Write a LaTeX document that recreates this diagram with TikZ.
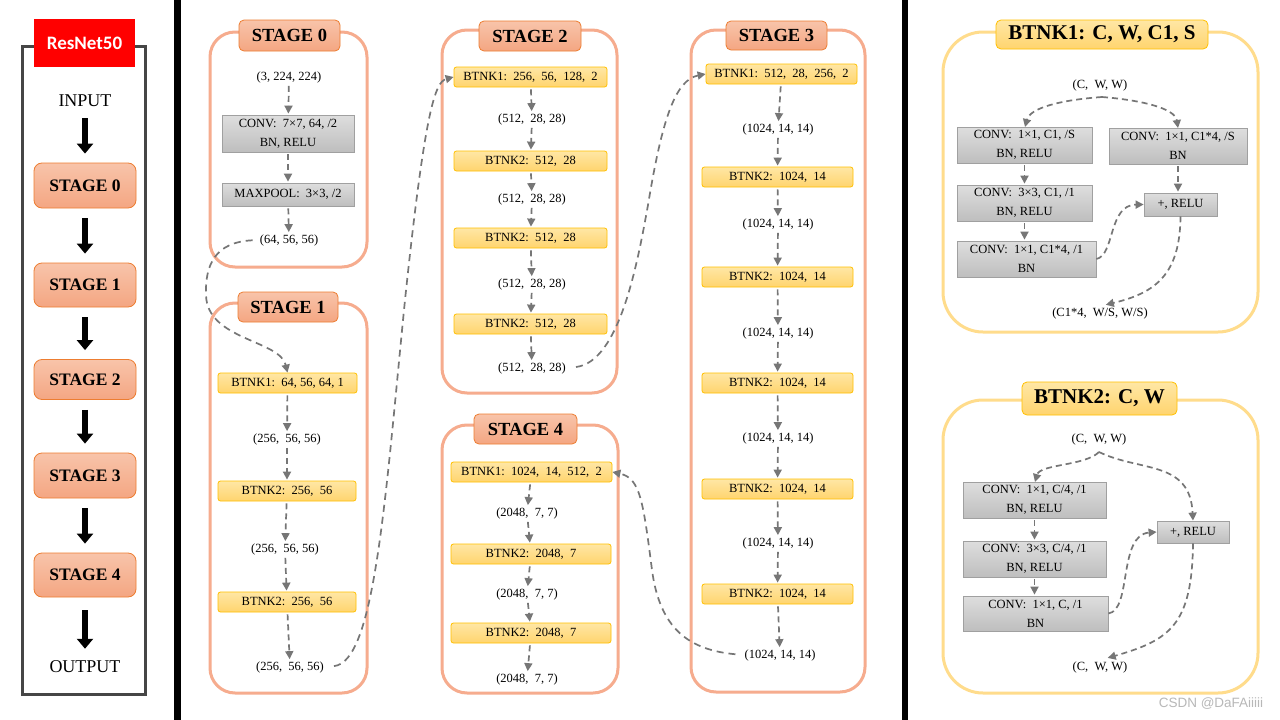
\documentclass[tikz,border=0pt]{standalone}
\usepackage{fontspec}
\setmainfont{Liberation Serif}
\newfontfamily\carlitofont{Carlito}
\newfontfamily\wmfont{Liberation Sans}
\usetikzlibrary{arrows.meta}
\definecolor{salTop}{RGB}{248,196,170}
\definecolor{salBot}{RGB}{244,166,130}
\definecolor{salBorder}{RGB}{237,125,49}
\definecolor{salLine}{RGB}{246,172,142}
\definecolor{yTop}{RGB}{255,231,165}
\definecolor{yBot}{RGB}{255,212,110}
\definecolor{yBorder}{RGB}{255,192,0}
\definecolor{yLine}{RGB}{255,220,140}
\definecolor{gTop}{RGB}{222,222,222}
\definecolor{gBot}{RGB}{190,190,190}
\definecolor{gBorder}{RGB}{160,160,160}
\definecolor{arrGray}{RGB}{118,118,118}
\definecolor{panelGray}{RGB}{70,70,70}
\definecolor{resRed}{RGB}{255,0,0}
\tikzset{
  smalltxt/.style={font=\fontsize{12.5}{19}\selectfont},
  txt/.style={smalltxt, inner sep=1pt},
  gbox/.style={smalltxt, draw=gBorder, top color=gTop, bottom color=gBot, line width=0.8pt, align=center, inner sep=0pt},
  ybox/.style={smalltxt, draw=yBorder, top color=yTop, bottom color=yBot, line width=0.8pt, rounded corners=2.5pt, inner sep=0pt, minimum height=20pt},
  stagecont/.style={draw=salLine, line width=3pt, rounded corners=25pt, inner sep=0pt},
  btnkcont/.style={draw=yLine, line width=3pt, rounded corners=40pt, inner sep=0pt},
  stagetitle/.style={draw=salBorder, top color=salTop, bottom color=salBot, line width=0.8pt, rounded corners=5pt, inner sep=0pt, font=\fontsize{18.5}{20}\selectfont\bfseries},
  btnktitle/.style={draw=yBorder, top color=yTop, bottom color=yBot, line width=0.8pt, rounded corners=5pt, inner sep=0pt, font=\fontsize{21}{23}\selectfont\bfseries},
  lstage/.style={draw=salBorder, top color=salTop, bottom color=salBot, line width=0.8pt, rounded corners=8pt, inner sep=0pt, minimum width=102pt, font=\fontsize{17.5}{19}\selectfont\bfseries},
  bigtxt/.style={inner sep=1pt, font=\fontsize{18}{20}\selectfont},
  bigarrow/.style={line width=6pt, -{Triangle[length=10pt,width=16pt]}, shorten <=10pt, shorten >=9pt},
  flow/.style={draw=arrGray, line width=1.7pt, dash pattern=on 6pt off 4pt, -{Triangle[length=8pt,width=8pt]}, arrGray, shorten <=2pt, shorten >=1pt},
  link/.style={draw=arrGray, line width=1.7pt, dash pattern=on 7pt off 5pt, -{Triangle[length=8pt,width=8pt]}, arrGray},
}
\begin{document}
\begin{tikzpicture}[x=1pt,y=-1pt]
\useasboundingbox (0,0) rectangle (1280,720);
\fill[white] (0,0) rectangle (1280,720);

% ---------- left overview panel ----------
\draw[draw=panelGray, line width=3pt] (22,46) rectangle (145,694);
\node[fill=resRed, text=white, inner sep=0pt, minimum width=101pt, minimum height=48pt, font=\carlitofont\fontsize{19}{21}\selectfont\bfseries] (res) at (84.5,43) {ResNet50};
\node[bigtxt] (inp) at (85,101) {INPUT};
\node[lstage, minimum height=45pt] (L0) at (85,185.5) {STAGE 0};
\node[lstage, minimum height=44pt] (L1) at (85,285) {STAGE 1};
\node[lstage, minimum height=40pt] (L2) at (85,379.5) {STAGE 2};
\node[lstage, minimum height=45pt] (L3) at (85,475.5) {STAGE 3};
\node[lstage, minimum height=44pt] (L4) at (85,575) {STAGE 4};
\node[bigtxt] (outp) at (85,667) {OUTPUT};
\draw[bigarrow] (inp) -- (L0);
\draw[bigarrow] (L0) -- (L1);
\draw[bigarrow] (L1) -- (L2);
\draw[bigarrow] (L2) -- (L3);
\draw[bigarrow] (L3) -- (L4);
\draw[bigarrow, shorten <=13pt, shorten >=11pt] (L4) -- (outp);

% separators
\draw[line width=7pt] (177.5,0) -- (177.5,720);
\draw[line width=6pt] (905,0) -- (905,720);

% ---------- STAGE 0 ----------
\node[stagecont, minimum width=157pt, minimum height=235pt] (s0box) at (288.5,149.5) {};
\node[stagetitle, minimum width=101pt, minimum height=31pt] (s0t) at (289.5,35.5) {STAGE 0};
\node[txt] (s0in) at (289,77) {(3, 224, 224)};
\node[gbox, minimum width=132pt, minimum height=37pt] (s0c) at (288,133.5) {CONV:\ \ 7×7, 64, /2\\BN, RELU};
\node[gbox, minimum width=132pt, minimum height=23pt] (s0m) at (288,194.5) {MAXPOOL:\ \ 3×3, /2};
\node[txt] (s0out) at (289,240) {(64, 56, 56)};
\draw[flow] (s0in) -- (s0c);
\draw[flow] (s0c) -- (s0m);
\draw[flow] (s0m) -- (s0out);

% ---------- STAGE 1 ----------
\node[stagecont, minimum width=157pt, minimum height=390pt] (s1box) at (288.5,498) {};
\node[stagetitle, minimum width=100pt, minimum height=30pt] (s1t) at (288,307) {STAGE 1};
\node[ybox, minimum width=139pt] (s1b1) at (287.5,383) {BTNK1:\ \ 64, 56, 64, 1};
\node[txt] (s1o1) at (287,439) {(256,\ \ 56, 56)};
\node[ybox, minimum width=138pt] (s1b2) at (287,491) {BTNK2:\ \ 256,\ \ 56};
\node[txt] (s1o2) at (285,549) {(256,\ \ 56, 56)};
\node[ybox, minimum width=138pt] (s1b3) at (287,602) {BTNK2:\ \ 256,\ \ 56};
\node[txt] (s1out) at (290,667) {(256,\ \ 56, 56)};
\draw[flow] (s1b1) -- (s1o1);
\draw[flow] (s1o1) -- (s1b2);
\draw[flow] (s1b2) -- (s1o2);
\draw[flow] (s1o2) -- (s1b3);
\draw[flow] (s1b3) -- (s1out);

% ---------- STAGE 2 ----------
\node[stagecont, minimum width=175pt, minimum height=363pt] (s2box) at (529.5,211.5) {};
\node[stagetitle, minimum width=102pt, minimum height=30pt] (s2t) at (530,36) {STAGE 2};
\node[ybox, minimum width=153pt] (s2b1) at (530.5,77) {BTNK1:\ \ 256,\ \ 56,\ \ 128,\ \ 2};
\node[txt] (s2o1) at (532,119) {(512,\ \ 28, 28)};
\node[ybox, minimum width=153pt] (s2b2) at (530.5,161) {BTNK2:\ \ 512,\ \ 28};
\node[txt] (s2o2) at (532,199) {(512,\ \ 28, 28)};
\node[ybox, minimum width=153pt] (s2b3) at (530.5,238) {BTNK2:\ \ 512,\ \ 28};
\node[txt] (s2o3) at (532,284) {(512,\ \ 28, 28)};
\node[ybox, minimum width=153pt] (s2b4) at (530.5,324) {BTNK2:\ \ 512,\ \ 28};
\node[txt] (s2out) at (532,368) {(512,\ \ 28, 28)};
\draw[flow] (s2b1) -- (s2o1);
\draw[flow] (s2o1) -- (s2b2);
\draw[flow] (s2b2) -- (s2o2);
\draw[flow] (s2o2) -- (s2b3);
\draw[flow] (s2b3) -- (s2o3);
\draw[flow] (s2o3) -- (s2b4);
\draw[flow] (s2b4) -- (s2out);

% ---------- STAGE 4 ----------
\node[stagecont, minimum width=176pt, minimum height=268pt] (s4box) at (530,559) {};
\node[stagetitle, minimum width=103pt, minimum height=30pt] (s4t) at (525.5,429) {STAGE 4};
\node[ybox, minimum width=161pt] (s4b1) at (531.5,472) {BTNK1:\ \ 1024,\ \ 14,\ \ 512,\ \ 2};
\node[txt] (s4o1) at (527,513) {(2048,\ \ 7, 7)};
\node[ybox, minimum width=160pt] (s4b2) at (531,554) {BTNK2:\ \ 2048,\ \ 7};
\node[txt] (s4o2) at (527,594) {(2048,\ \ 7, 7)};
\node[ybox, minimum width=160pt] (s4b3) at (531,633) {BTNK2:\ \ 2048,\ \ 7};
\node[txt] (s4out) at (527,679) {(2048,\ \ 7, 7)};
\draw[flow] (s4b1) -- (s4o1);
\draw[flow] (s4o1) -- (s4b2);
\draw[flow] (s4b2) -- (s4o2);
\draw[flow] (s4o2) -- (s4b3);
\draw[flow] (s4b3) -- (s4out);

% ---------- STAGE 3 ----------
\node[stagecont, minimum width=174pt, minimum height=662pt] (s3box) at (778,361) {};
\node[stagetitle, minimum width=101pt, minimum height=29pt] (s3t) at (776.5,35.5) {STAGE 3};
\node[ybox, minimum width=151pt] (s3b1) at (781.5,74) {BTNK1:\ \ 512,\ \ 28,\ \ 256,\ \ 2};
\node[txt] (s3o1) at (778,129) {(1024, 14, 14)};
\node[ybox, minimum width=151pt] (s3b2) at (777.5,177) {BTNK2:\ \ 1024,\ \ 14};
\node[txt] (s3o2) at (778,224) {(1024, 14, 14)};
\node[ybox, minimum width=151pt] (s3b3) at (777.5,277) {BTNK2:\ \ 1024,\ \ 14};
\node[txt] (s3o3) at (778,333) {(1024, 14, 14)};
\node[ybox, minimum width=151pt] (s3b4) at (777.5,383) {BTNK2:\ \ 1024,\ \ 14};
\node[txt] (s3o4) at (778,438) {(1024, 14, 14)};
\node[ybox, minimum width=151pt] (s3b5) at (777.5,489) {BTNK2:\ \ 1024,\ \ 14};
\node[txt] (s3o5) at (778,543) {(1024, 14, 14)};
\node[ybox, minimum width=151pt] (s3b6) at (777.5,594) {BTNK2:\ \ 1024,\ \ 14};
\node[txt] (s3out) at (780,655) {(1024, 14, 14)};
\draw[flow] (s3b1) -- (s3o1);
\draw[flow] (s3o1) -- (s3b2);
\draw[flow] (s3b2) -- (s3o2);
\draw[flow] (s3o2) -- (s3b3);
\draw[flow] (s3b3) -- (s3o3);
\draw[flow] (s3o3) -- (s3b4);
\draw[flow] (s3b4) -- (s3o4);
\draw[flow] (s3o4) -- (s3b5);
\draw[flow] (s3b5) -- (s3o5);
\draw[flow] (s3o5) -- (s3b6);
\draw[flow] (s3b6) -- (s3out);

% ---------- stage-to-stage links ----------
\draw[link, shorten <=6pt] (s0out.west) .. controls (215,242) and (205,265) .. (206,295)
   .. controls (207,340) and (280,340) .. (s1b1.north);
\draw[link, shorten <=9pt] (s1out.east) .. controls (375,662) and (385,500) .. (405,300)
   .. controls (425,110) and (435,82) .. (s2b1.west);
\draw[link, shorten <=9pt] (s2out.east) .. controls (620,362) and (638,260) .. (648,205)
   .. controls (662,120) and (675,80) .. (s3b1.west);
\draw[link, shorten <=8pt] (s3out.west) .. controls (690,650) and (660,630) .. (652,570)
   .. controls (643,500) and (640,478) .. (s4b1.east);

% ---------- BTNK1 panel ----------
\node[btnkcont, minimum width=315pt, minimum height=300pt] (k1box) at (1100.5,182) {};
\node[btnktitle, minimum width=212pt, minimum height=29pt] (k1t) at (1102,34.5) {BTNK1: C, W, C1, S};
\node[txt] (k1in) at (1100,85) {(C,\ \ W, W)};
\coordinate (k1split) at (1102,97);
\node[gbox, minimum width=135pt, minimum height=36pt] (k1a) at (1024.5,145) {CONV:\ \ 1×1, C1, /S\\BN, RELU};
\node[gbox, minimum width=135pt, minimum height=36pt] (k1b) at (1024.5,203) {CONV:\ \ 3×3, C1, /1\\BN, RELU};
\node[gbox, minimum width=139pt, minimum height=36pt] (k1c) at (1026.5,259) {CONV:\ \ 1×1, C1*4, /1\\BN};
\node[gbox, minimum width=138pt, minimum height=36pt] (k1d) at (1178,146) {CONV:\ \ 1×1, C1*4, /S\\BN};
\node[gbox, minimum width=73pt, minimum height=23pt] (k1p) at (1180.5,204.5) {+, RELU};
\node[txt] (k1out) at (1100,313) {(C1*4,\ \ W/S, W/S)};
\draw[link, dash pattern=on 6pt off 4pt] (k1split) .. controls (1060,100) and (1030,108) .. (1025,127);
\draw[link, dash pattern=on 6pt off 4pt] (k1split) .. controls (1140,100) and (1175,108) .. (1178,128);
\draw[flow] (k1a) -- (k1b);
\draw[flow] (k1b.south) -- (k1b.south |- k1c.north);
\draw[flow] (k1d.south) -- (k1d.south |- k1p.north);
\draw[link, dash pattern=on 6pt off 4pt] (k1c.east) .. controls (1115,255) and (1108,205) .. (k1p.west);
\draw[link, dash pattern=on 6pt off 4pt, shorten >=6pt] (k1p.south) .. controls (1180,275) and (1155,293) .. (k1out.north);

% ---------- BTNK2 panel ----------
\node[btnkcont, minimum width=315pt, minimum height=293pt] (k2box) at (1100.5,546.5) {};
\node[btnktitle, minimum width=155pt, minimum height=33pt] (k2t) at (1099.5,398.5) {BTNK2: C, W};
\node[txt] (k2in) at (1099,439) {(C,\ \ W, W)};
\coordinate (k2split) at (1099,452);
\node[gbox, minimum width=143pt, minimum height=36pt] (k2a) at (1034.5,500) {CONV:\ \ 1×1, C/4, /1\\BN, RELU};
\node[gbox, minimum width=143pt, minimum height=36pt] (k2b) at (1034.5,559) {CONV:\ \ 3×3, C/4, /1\\BN, RELU};
\node[gbox, minimum width=145pt, minimum height=35pt] (k2c) at (1035.5,613.5) {CONV:\ \ 1×1, C, /1\\BN};
\node[gbox, minimum width=72pt, minimum height=22pt] (k2p) at (1193,532) {+, RELU};
\node[txt] (k2out) at (1100,667) {(C,\ \ W, W)};
\draw[link, dash pattern=on 6pt off 4pt] (k2split) .. controls (1085,466) and (1040,464) .. (1035,482);
\draw[link, dash pattern=on 6pt off 4pt] (k2split) .. controls (1140,472) and (1190,460) .. (k2p.north);
\draw[flow] (k2a) -- (k2b);
\draw[flow] (k2b.south) -- (k2b.south |- k2c.north);
\draw[link, dash pattern=on 6pt off 4pt] (k2c.east) .. controls (1132,610) and (1118,535) .. (k2p.west);
\draw[link, dash pattern=on 6pt off 4pt, shorten >=8pt] (k2p.south) .. controls (1192,625) and (1170,640) .. (k2out.north);

% watermark
\node[inner sep=0pt, text=black!28, font=\wmfont\fontsize{13.5}{15}\selectfont] (wm) at (1211,704) {CSDN @DaFAiiiii};
\end{tikzpicture}
\end{document}
